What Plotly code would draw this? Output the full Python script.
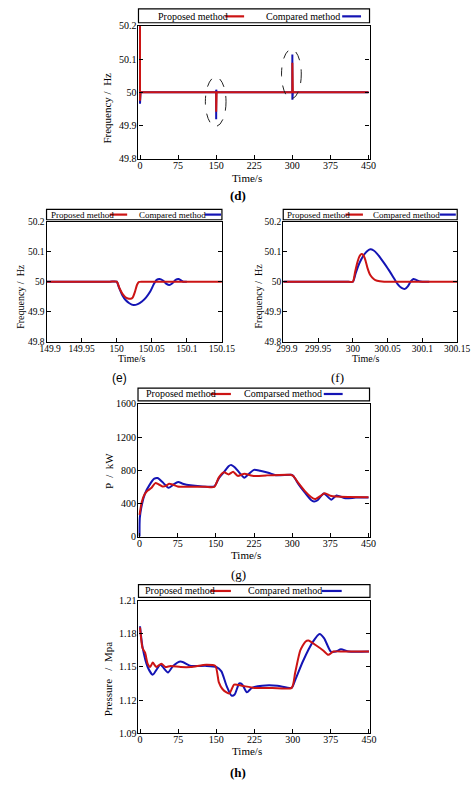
import plotly.graph_objects as go

W, H = 474, 787
RED = "#cc1414"
BLUE = "#1414b4"
SERIF = "Liberation Serif"
NB = "&nbsp;"

# ---------------- data ----------------
# (d) frequency, full run
d_t_prop = [0, 0.01, 0.03, 1, 150, 150.02, 150.035, 151, 300, 300.013, 300.04, 301, 450]
d_f_prop = [50.3, 49.975, 50.0, 50.0, 50.0, 49.942, 50.0, 50.0, 50.0, 50.089, 50.0, 50.0, 50.0]
d_t_comp = [0, 0.01, 0.04, 1, 150, 150.025, 150.06, 151, 300, 300.025, 300.075, 301, 450]
d_f_comp = [50.3, 49.966, 50.0, 50.0, 50.0, 49.919, 50.008, 50.0, 50.0, 50.114, 49.978, 50.0, 50.0]

# (e) zoom at 150 s
e_t_prop = [149.9, 149.99, 150.0, 150.004, 150.008, 150.012, 150.016, 150.02, 150.023, 150.026, 150.029, 150.032,
            150.036, 150.05, 150.1, 150.15]
e_f_prop = [50.0, 50.0, 50.0, 49.978, 49.96, 49.949, 49.944, 49.943, 49.948, 49.966, 49.99, 49.999,
            50.0, 50.0, 50.0, 50.0]
e_t_comp = [149.9, 149.99, 150.0, 150.003, 150.008, 150.013, 150.018, 150.024, 150.03, 150.036, 150.042, 150.048,
            150.053, 150.057, 150.061, 150.066, 150.071, 150.075, 150.079, 150.084, 150.088, 150.092, 150.095, 150.1]
e_f_comp = [50.0, 50.0, 50.0, 49.982, 49.955, 49.938, 49.928, 49.922, 49.925, 49.934, 49.948, 49.968,
            49.992, 50.006, 50.009, 50.004, 49.993, 49.989, 49.994, 50.006, 50.009, 50.004, 50.0, 50.0]

# (f) zoom at 300 s
f_t_prop = [299.9, 299.99, 300.0, 300.003, 300.006, 300.009, 300.012, 300.015, 300.018, 300.021, 300.025, 300.03,
            300.035, 300.045, 300.06, 300.1, 300.15]
f_f_prop = [50.0, 50.0, 50.0, 50.03, 50.06, 50.082, 50.092, 50.089, 50.072, 50.046, 50.022, 50.009,
            50.003, 50.0, 50.0, 50.0, 50.0]
f_t_comp = [299.9, 299.99, 300.0, 300.004, 300.008, 300.012, 300.016, 300.02, 300.025, 300.03, 300.035, 300.04,
            300.045, 300.05, 300.055, 300.06, 300.065, 300.07, 300.075, 300.079, 300.083, 300.087, 300.091,
            300.095, 300.1, 300.11]
f_f_comp = [50.0, 50.0, 50.0, 50.028, 50.054, 50.074, 50.09, 50.101, 50.108, 50.104, 50.093, 50.078,
            50.062, 50.045, 50.027, 50.008, 49.99, 49.979, 49.976, 49.984, 50.0, 50.009, 50.006,
            50.002, 50.0, 50.0]

# (g) power
g_t_prop = [0, 4.5, 10, 15, 23, 31, 38, 45, 52, 58, 66, 75, 90, 110, 130, 147, 156, 166, 175, 184, 193, 206, 219,
            231, 249, 297, 302, 312, 325, 337, 345, 356, 364, 375, 387, 410, 450]
g_p_prop = [262, 420, 510, 550, 585, 645, 628, 605, 612, 638, 625, 605, 600, 600, 600, 600, 715, 775, 750, 782, 732,
            758, 738, 730, 738, 745, 730, 648, 549, 478, 452, 492, 522, 492, 482, 478, 475]
g_t_comp = [0, 0.5, 4.5, 10.7, 20, 29, 35.5, 45, 57, 66.5, 76, 85, 100, 119, 147, 156, 166, 175, 180, 187, 197, 206,
            215, 225, 237, 253, 268, 298, 302, 312, 325, 337, 343, 350, 362, 377, 387, 405, 425, 450]
g_p_comp = [0, 222, 381, 518, 627, 698, 706, 658, 588, 627, 658, 638, 618, 607, 607, 706, 778, 849, 865, 837, 766,
            710, 758, 805, 793, 770, 740, 745, 735, 636, 530, 442, 424, 438, 520, 445, 496, 462, 470, 472]

# (h) pressure
h_t_prop = [0, 5, 10, 15, 20, 25, 32, 42, 50, 60, 80, 100, 130, 148, 155, 162, 170, 176, 185, 200, 225, 260, 298,
            305, 315, 325, 331, 345, 360, 370, 380, 400, 450]
h_p_prop = [1.186, 1.167, 1.163, 1.153, 1.150, 1.154, 1.150, 1.153, 1.150, 1.151, 1.150, 1.150, 1.152, 1.151, 1.136,
            1.130, 1.127, 1.126, 1.134, 1.133, 1.131, 1.131, 1.131, 1.145, 1.165, 1.173, 1.174, 1.170, 1.165, 1.161,
            1.164, 1.164, 1.164]
h_t_comp = [0, 5, 15, 25, 40, 55, 65, 80, 100, 130, 150, 160, 170, 180, 186, 195, 201, 210, 220, 240, 270, 298,
            305, 320, 340, 353, 362, 375, 385, 395, 410, 450]
h_p_comp = [1.187, 1.168, 1.150, 1.143, 1.152, 1.145, 1.151, 1.155, 1.151, 1.151, 1.150, 1.146, 1.133, 1.124, 1.125,
            1.135, 1.134, 1.127, 1.131, 1.133, 1.133, 1.131, 1.138, 1.155, 1.173, 1.180, 1.176, 1.164, 1.164, 1.166,
            1.164, 1.164]

# tick labels
t_ticks_long = [0, 75, 150, 225, 300, 375, 450]
freq_ticks = [49.8, 49.9, 50.0, 50.1, 50.2]
freq_tick_text = ["49.8", "49.9", "50", "50.1", "50.2"]
e_ticks = [149.9, 149.95, 150.0, 150.05, 150.1, 150.15]
e_tick_text = [NB * 3 + "149.9", "149.95", "150", "150.05", "150.1", "150.15"]
f_ticks = [299.9, 299.95, 300.0, 300.05, 300.1, 300.15]
f_tick_text = [NB * 3 + "299.9", "299.95", "300", "300.05", "300.1", "300.15"]
p_ticks = [0, 400, 800, 1200, 1600]
pr_ticks = [1.09, 1.12, 1.15, 1.18, 1.21]
pr_tick_text = ["1.09", "1.12", "1.15", "1.18", "1.21"]


def px(x):
    return x / W


def py(y):
    return 1 - y / H


fig = go.Figure()

panels = {
    # name: (axis suffix, left, right, top, bottom)
    "d": ("", 132, 377, 21, 156),
    "e": ("2", 34.5, 220.5, 219.5, 341),
    "f": ("3", 285.5, 470, 219.5, 341),
    "g": ("4", 131.5, 377, 404, 538.5),
    "h": ("5", 132, 377.5, 603.5, 737.5),
}

series = {
    "d": (d_t_comp, d_f_comp, d_t_prop, d_f_prop, "linear"),
    "e": (e_t_comp, e_f_comp, e_t_prop, e_f_prop, "spline"),
    "f": (f_t_comp, f_f_comp, f_t_prop, f_f_prop, "spline"),
    "g": (g_t_comp, g_p_comp, g_t_prop, g_p_prop, "spline"),
    "h": (h_t_comp, h_p_comp, h_t_prop, h_p_prop, "spline"),
}

for name, (suf, l, r, t, b) in panels.items():
    tc, vc, tp, vp, shape = series[name]
    lw = 2.0
    fig.add_trace(go.Scatter(x=tc, y=vc, mode="lines", line=dict(color=BLUE, width=lw, shape=shape, smoothing=0.6),
                             xaxis="x" + suf, yaxis="y" + suf, showlegend=False))
    fig.add_trace(go.Scatter(x=tp, y=vp, mode="lines", line=dict(color=RED, width=lw, shape=shape, smoothing=0.6),
                             xaxis="x" + suf, yaxis="y" + suf, showlegend=False))

axis_common = dict(showline=True, linecolor="black", linewidth=1.2, ticks="inside", ticklen=4,
                   tickcolor="black", tickwidth=1, showgrid=False, zeroline=False)

layout_axes = {}
xcfg = {
    "d": dict(range=[-3, 452], tickvals=t_ticks_long),
    "e": dict(range=[149.8999, 150.1501], tickvals=e_ticks, ticktext=e_tick_text),
    "f": dict(range=[299.8999, 300.1501], tickvals=f_ticks, ticktext=f_tick_text),
    "g": dict(range=[-3, 452], tickvals=t_ticks_long),
    "h": dict(range=[-3, 452], tickvals=t_ticks_long),
}
ycfg = {
    "d": dict(range=[49.7999, 50.2001], tickvals=freq_ticks, ticktext=freq_tick_text),
    "e": dict(range=[49.7999, 50.2001], tickvals=freq_ticks, ticktext=freq_tick_text),
    "f": dict(range=[49.7999, 50.2001], tickvals=freq_ticks, ticktext=freq_tick_text),
    "g": dict(range=[-1, 1601], tickvals=p_ticks),
    "h": dict(range=[1.0899, 1.2101], tickvals=pr_ticks, ticktext=pr_tick_text),
}
for name, (suf, l, r, t, b) in panels.items():
    fs = 9.5 if name in ("e", "f") else 10
    xa = dict(axis_common)
    xa.update(xcfg[name])
    xa.update(domain=[px(l), px(r)], anchor="y" + suf, mirror=True, tickangle=0,
              ticklabelstandoff=-2 if name in ("e", "f") else -3,
              tickfont=dict(family=SERIF, size=fs, color="black"))
    ya = dict(axis_common)
    ya.update(ycfg[name])
    ya.update(domain=[py(b), py(t)], anchor="x" + suf, mirror="ticks", ticklabelstandoff=-1,
              tickfont=dict(family=SERIF, size=fs, color="black"))
    layout_axes["xaxis" + suf] = xa
    layout_axes["yaxis" + suf] = ya

fig.update_layout(**layout_axes)

shapes = []
annotations = []

# dashed ellipses in (d)
shapes.append(dict(type="circle", xref="x", yref="y", x0=128.7, x1=169.4, y0=49.898, y1=50.046,
                   line=dict(color="#222222", width=1, dash="dash")))
shapes.append(dict(type="circle", xref="x", yref="y", x0=278.7, x1=317.6, y0=49.981, y1=50.129,
                   line=dict(color="#222222", width=1, dash="dash")))

# legend boxes: (box l, r, t, b, fontsize, entries [(text, x_text, line_x0, line_x1, color)], yc)
legends = [
    (132, 377, 4, 18, 10, [("Proposed method", 151, 224, 244, RED), ("Compared method", 265, 348, 368, BLUE)], 11.5),
    (34.5, 220.5, 207, 217.5, 9, [("Proposed method", 37, 101.5, 120, RED), ("Compared method", 130, 202.5, 219.5, BLUE)], 212.3),
    (285.5, 470, 207, 217.5, 9, [("Proposed method", 287, 351.5, 370, RED), ("Compared method", 379, 451.5, 468.5, BLUE)], 212.3),
    (131.5, 377, 388, 401, 10, [("Proposed method", 137.5, 208.5, 230, RED), ("Comparsed method", 241.5, 328.5, 348.5, BLUE)], 394),
    (132, 377.5, 587, 600, 10, [("Proposed method", 136.5, 208.5, 230, RED), ("Compared method", 246, 326.5, 347.5, BLUE)], 593.5),
]
for (l, r, t, b, fs, entries, yc) in legends:
    shapes.append(dict(type="rect", xref="paper", yref="paper", x0=px(l), x1=px(r), y0=py(b), y1=py(t),
                       line=dict(color="black", width=1.2), fillcolor="white", layer="below"))
    for text, xt, lx0, lx1, col in entries:
        annotations.append(dict(text=text, x=px(xt), y=py(yc), xref="paper", yref="paper", xanchor="left",
                                yanchor="middle", showarrow=False,
                                font=dict(family=SERIF, size=fs, color="black")))
        shapes.append(dict(type="line", xref="paper", yref="paper", x0=px(lx0), x1=px(lx1), y0=py(yc), y1=py(yc),
                           line=dict(color=col, width=2.2)))

# axis titles
titles = [
    ("Time/s", 246.7, 175, 0, 11),
    ("Frequency /  Hz", 98.5, 104, -90, 11),
    ("Time/s", 125, 358, 0, 10),
    ("Frequency /  Hz", 7, 295, -90, 10),
    ("Time/s", 373.3, 358.5, 0, 10),
    ("Frequency /  Hz", 259, 295, -90, 10),
    ("Time/s", 246, 557, 0, 11),
    ("P  /  kW", 100, 471.7, -90, 11),
    ("Time/s", 246.7, 756, 0, 11),
    ("Pressure   /  Mpa", 99, 682.5, -90, 11),
]
for text, x, y, ang, fs in titles:
    annotations.append(dict(text=text, x=px(x), y=py(y), xref="paper", yref="paper", xanchor="center",
                            yanchor="middle", showarrow=False, textangle=ang,
                            font=dict(family=SERIF, size=fs, color="black")))

# panel labels
labels = [
    ("<b>(d)</b>", 238, 193, SERIF, 13),
    ("(e)", 111.7, 377.7, "Liberation Sans", 12),
    ("(f)", 343.3, 377.7, SERIF, 13),
    ("(g)", 238, 576.7, SERIF, 13),
    ("<b>(h)</b>", 238, 777, SERIF, 13),
]
for text, x, y, fam, fs in labels:
    annotations.append(dict(text=text, x=px(x), y=py(y), xref="paper", yref="paper", xanchor="center",
                            yanchor="middle", showarrow=False,
                            font=dict(family=fam, size=fs, color="black")))

fig.update_layout(
    width=W, height=H, margin=dict(l=0, r=0, t=0, b=0),
    paper_bgcolor="white", plot_bgcolor="white",
    showlegend=False, shapes=shapes, annotations=annotations,
)

fig.write_html("out.html", config={"displayModeBar": False})
